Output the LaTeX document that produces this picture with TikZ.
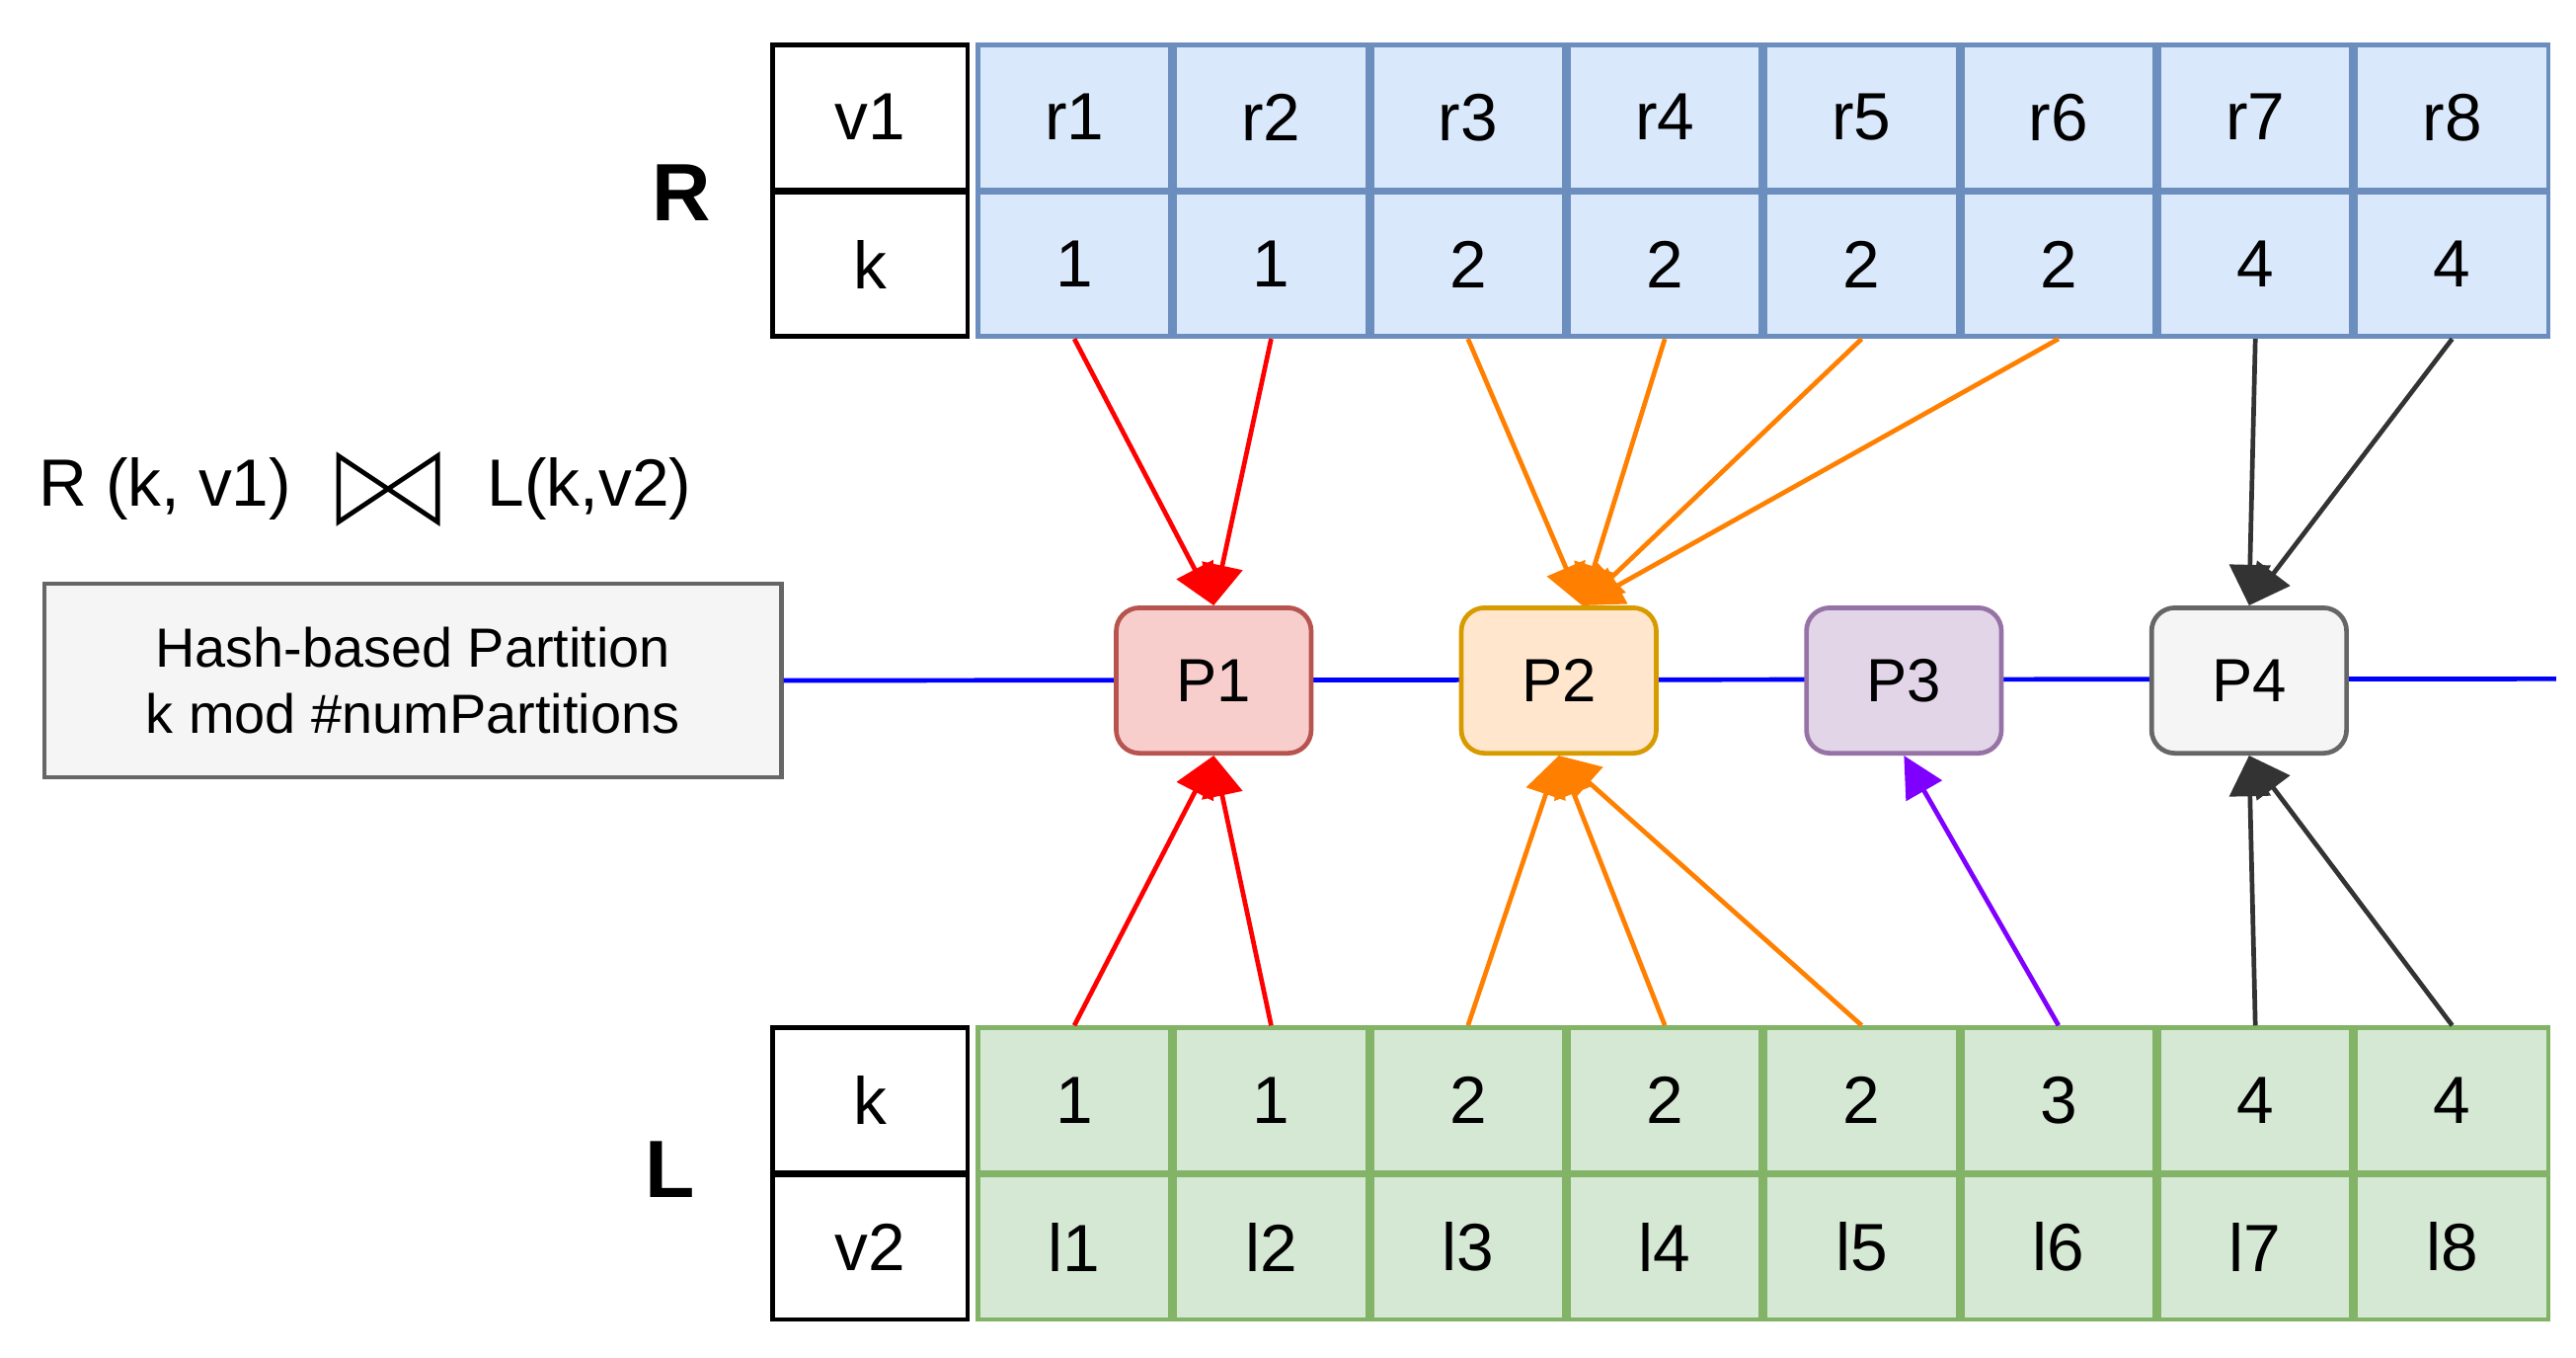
\documentclass[tikz,border=0pt]{standalone}
\usepackage{fontspec}
\setmainfont{Liberation Sans}
\usetikzlibrary{arrows.meta}
\definecolor{rfill}{HTML}{DAE8FC}\definecolor{rdraw}{HTML}{6C8EBF}
\definecolor{lfill}{HTML}{D5E8D4}\definecolor{ldraw}{HTML}{82B366}
\definecolor{pafill}{HTML}{F8CECC}\definecolor{padraw}{HTML}{B85450}
\definecolor{pbfill}{HTML}{FFE6CC}\definecolor{pbdraw}{HTML}{D79B00}
\definecolor{pcfill}{HTML}{E1D5E7}\definecolor{pcdraw}{HTML}{9673A6}
\definecolor{pdfill}{HTML}{F5F5F5}\definecolor{pddraw}{HTML}{666666}
\definecolor{aorange}{HTML}{FF8000}\definecolor{apurple}{HTML}{7F00FF}
\tikzset{
  cell/.style={rectangle, minimum width=1.165cm, minimum height=0.875cm, inner sep=0pt, font=\fontsize{11.5}{13}\selectfont},
  head/.style={cell, draw=black, thick, minimum width=1.18cm},
  rcell/.style={cell, draw=rdraw, fill=rfill, thick},
  lcell/.style={cell, draw=ldraw, fill=lfill, thick},
  part/.style={rectangle, rounded corners=4pt, minimum width=1.18cm, minimum height=0.88cm, thick, font=\fontsize{10.5}{12}\selectfont},
  arrow/.style={thick, -{Triangle[length=7pt,width=7pt]}},
}
\begin{document}
\begin{tikzpicture}[x=0.01cm, y=-0.01cm]
\useasboundingbox (0,0) rectangle (1560,822);
% row headers
\node (hv1) [head] at (527,71) {v1};
\node (hk) [head] at (527,160) {k};
\node (lhk) [head] at (527,666) {k};
\node (lhv2) [head] at (527,755) {v2};
\node [font=\fontsize{14}{16}\selectfont\bfseries] at (413,117) {R};
\node [font=\fontsize{14}{16}\selectfont\bfseries] at (406,708) {L};
% tables
\foreach \i/\rk/\lk [evaluate=\i as \x using 650.6+119.2*(\i-1)] in {1/1/1,2/1/1,3/2/2,4/2/2,5/2/2,6/2/3,7/4/4,8/4/4} {
  \node (r\i) [rcell] at (\x,71) {r\i};
  \node (rk\i) [rcell] at (\x,160) {\rk};
  \node (lk\i) [lcell] at (\x,666) {\lk};
  \node (l\i) [lcell] at (\x,755) {l\i};
}
% join
\node at (100,296) [font=\fontsize{11.5}{13}\selectfont] {R (k, v1)};
\draw[thick] (205,276) -- (265,316) -- (265,276) -- (205,316) -- cycle;
\node at (357,296) [font=\fontsize{11.5}{13}\selectfont] {L(k,v2)};
% partitions
\node (hash) [rectangle, draw=pddraw, fill=pdfill, thick, minimum width=4.46cm, minimum height=1.17cm, align=center, font=\fontsize{9.5}{11.5}\selectfont] at (250,412) {Hash-based Partition\\k mod \#numPartitions};
\coordinate (lineend) at (1548,411);
\draw[blue, thick] (hash.east) -- (lineend);
\node (p1) [part, draw=padraw, fill=pafill] at (735,412) {P1};
\node (p2) [part, draw=pbdraw, fill=pbfill] at (944,412) {P2};
\node (p3) [part, draw=pcdraw, fill=pcfill] at (1153,412) {P3};
\node (p4) [part, draw=pddraw, fill=pdfill] at (1362,412) {P4};
% arrows
\foreach \i in {1,2} {
  \draw [arrow, red] (rk\i.south) -- (p1.north);
  \draw [arrow, red] (lk\i.north) -- (p1.south);
}
\foreach \i in {3,4,5,6} \draw [arrow, aorange] (rk\i.south) -- ([xshift=4]p2.north);
\foreach \i in {3,4,5} \draw [arrow, aorange] (lk\i.north) -- (p2.south);
\draw [arrow, apurple] (lk6.north) -- (p3.south);
\foreach \i in {7,8} {
  \draw [arrow, black!80] (rk\i.south) -- (p4.north);
  \draw [arrow, black!80] (lk\i.north) -- (p4.south);
}
\end{tikzpicture}
\end{document}
